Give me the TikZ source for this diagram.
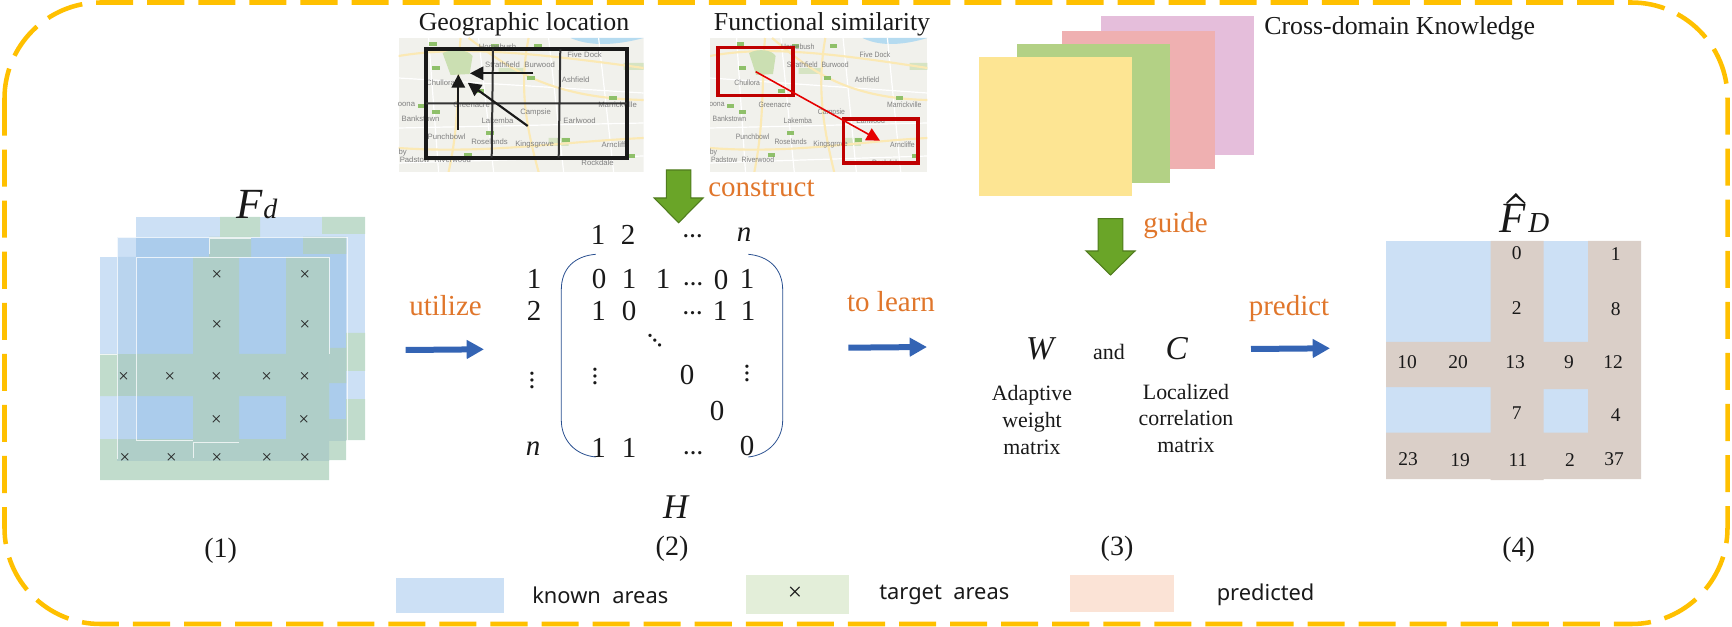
\documentclass[tikz,border=0pt]{standalone}
\usepackage{fontspec}
\setmainfont{Liberation Serif}
\newfontfamily\legendfont{Noto Sans}
\newfontfamily\mapfont{Liberation Sans}
\usetikzlibrary{arrows.meta}
\definecolor{framegold}{HTML}{FFC000}
\definecolor{wordorange}{HTML}{E0762B}
\definecolor{arrowblue}{HTML}{3464B4}
\definecolor{arrowgreen}{HTML}{6AA528}
\definecolor{knownblue}{HTML}{CCE0F5}
\definecolor{deepblue}{HTML}{ABCCEC}
\definecolor{midblue}{HTML}{B9D4EE}
\definecolor{lightgreen}{HTML}{C1DCCC}
\definecolor{tealgreen}{HTML}{AFCEC8}
\definecolor{cellbrown}{HTML}{DACFC8}
\definecolor{legendgreen}{HTML}{E3EED9}
\definecolor{legendpeach}{HTML}{FBE3D6}
\definecolor{sheetd}{HTML}{E5BEDB}
\definecolor{sheetc}{HTML}{EFB0B1}
\definecolor{sheetb}{HTML}{B3D185}
\definecolor{sheeta}{HTML}{FDE593}
\definecolor{mapground}{HTML}{F1F1EC}
\definecolor{maproad}{HTML}{FBE9B4}
\definecolor{mappark}{HTML}{CBDFB2}
\definecolor{mapshield}{HTML}{8FC06A}
\definecolor{mapwater}{HTML}{B5DBF0}
\begin{document}
\begin{tikzpicture}[x=0.75pt,y=-0.75pt,inner sep=0pt]
	\useasboundingbox (0,0) rectangle (1732,627);
	\tikzstyle{orangeword}=[wordorange,font=\fontsize{21.75}{26}\selectfont]
	\tikzstyle{blackword}=[black!90,font=\fontsize{16.4}{20}\selectfont]
	\tikzstyle{titleword}=[black!90,font=\fontsize{19.4}{23}\selectfont]
	\tikzstyle{capword}=[black!90,font=\fontsize{21}{25}\selectfont]
	\tikzstyle{matnum}=[black!90,font=\fontsize{21.75}{26}\selectfont]
	\tikzstyle{matdots}=[black!90,font=\bfseries\fontsize{15}{18}\selectfont]
	\tikzstyle{cellnum}=[black!90,font=\fontsize{14.6}{18}\selectfont]
	\tikzstyle{crossmark}=[black!85,font=\fontsize{14}{17}\selectfont]
	\tikzstyle{legendword}=[black!90,font=\legendfont\fontsize{16.4}{19}\selectfont]
	\tikzstyle{mapword}=[black!50,font=\mapfont\fontsize{5.8}{7}\selectfont,transform shape]
	\tikzstyle{bluearrow}=[arrowblue,line width=4.5pt,-{Triangle[length=13pt,width=13.5pt]}]
	\tikzstyle{greenarrow}=[draw=arrowgreen!75!black,fill=arrowgreen,line width=0.8pt]
	\tikzstyle{roadline}=[maproad,line width=1.6pt]
	\tikzstyle{streetline}=[white,line width=0.9pt]

	\draw[framegold,line width=3.4pt,rounded corners=72pt,dash pattern=on 27.8pt off 10.5pt] (4.5,2.5) rectangle (1727.5,624);

	\foreach \mapx/\mapscale/\mapname in {398.6/1/geomap,710/.887/simmap}{
		\begin{scope}[shift={(\mapx,38)},xscale=\mapscale]
			\clip (0,0) rectangle (245,134);
			\fill[mapground] (0,0) rectangle (245,134);
			\fill[mapwater] (172,0) .. controls (190,8) and (215,8) .. (245,0) -- cycle;
			\fill[mappark!70!mapground] (225,25) rectangle (245,32) (100,30) rectangle (125,36) (150,100) rectangle (170,108);
			\foreach \a/\b/\c/\d in {0/40/245/55,30/0/40/134,80/0/95/134,150/0/165/134,0/90/245/85,200/0/215/134,0/125/245/118}
				\draw[streetline] (\a,\b) -- (\c,\d);
			\draw[roadline] (0,18) .. controls (60,8) and (130,14) .. (245,30);
			\draw[roadline] (62,0) .. controls (58,40) and (62,80) .. (50,134);
			\draw[roadline] (0,110) .. controls (90,116) and (160,104) .. (245,100);
			\draw[roadline] (130,0) .. controls (120,50) and (128,90) .. (140,134);
			\draw[roadline] (70,0) .. controls (110,30) and (150,60) .. (245,62);
			\fill[mappark] (44,15) .. controls (55,10) and (70,12) .. (74,18) -- (71,36) -- (52,37) -- cycle;
			\foreach \a/\b in {30/4,33/28,19/66,33/72,92/6,135/6,128/38,77/51,87/93,65/115,163/100,210/58,228/116}
				\fill[mapshield] (\a,\b) rectangle ++(8,4);
			\foreach \x/\y/\t [count=\i] in {99/9/Homebush,104/27/Strathfield,141/27/Burwood,186/17/Five Dock,177/42/Ashfield,42/45/Chullora,7/67/joona,73/67/Greenacre,22/81/Bankstown,99/83/Lakemba,137/75/Campsie,181/83/Earlwood,48/99/Punchbowl,91/104/Roselands,136/107/Kingsgrove,217/107/Arncliffe,4/115/by,16/122/Padstow,54/122/Riverwood,199/125/Rockdale,219/67/Marrickville}
				\node[mapword] (\mapname\i) at (\x,\y) {\t};
		\end{scope}
	}

	\node[titleword,anchor=base] (geotitle) at (524,31) {Geographic location};
	\node[titleword,anchor=base] (simtitle) at (822,31) {Functional similarity};
	\draw[black!90,line width=2.8pt] (426,49.3) rectangle (626.7,157.7);
	\draw[black!80,line width=1.5pt] (493,49.3) -- (491.7,157.7) (560.3,49.3) -- (558.7,157.7) (426,103.3) -- (626.7,103.3);
	\coordinate (geoa) at (458.3,130);
	\coordinate (geob) at (458.3,74.3);
	\coordinate (geoc) at (533.3,73.3);
	\coordinate (geod) at (470,73.3);
	\coordinate (geoe) at (527.7,126);
	\coordinate (geof) at (467.7,82.7);
	\tikzstyle{EdgeStyle}=[black!90,line width=1.6pt,-{Triangle[length=10pt,width=10pt]}]
	\draw[EdgeStyle] (geoa) -- (geob);
	\draw[EdgeStyle] (geoc) -- (geod);
	\draw[EdgeStyle] (geoe) -- (geof);
	\draw[red!75!black,line width=2.7pt] (718,47.7) rectangle (793,95.7) (843.6,119.3) rectangle (918,163.3);
	\coordinate (sima) at (755.7,71.7);
	\coordinate (simb) at (880,140.7);
	\draw[red!90!black,line width=1.2pt,-{Triangle[length=10pt,width=10pt]}] (sima) -- (simb);

	\foreach \ax/\ay/\ab/\at in {678.6/170/198/222.7,1110.5/218.7/251/275}
		\filldraw[greenarrow] (\ax-12.3,\ay) -- (\ax+12.3,\ay) -- (\ax+12.3,\ab) -- (\ax+24.5,\ab) -- (\ax,\at) -- (\ax-24.5,\ab) -- (\ax-12.3,\ab) -- cycle;
	\node[orangeword,anchor=base west] (construct) at (708,196.7) {construct};

	\foreach \lx/\ly/\ca/\cb/\ra/\rb/\rh/\px/\py in {136/217/84/124/116/154/17/-900/-900,117/237/92/134/111/146/17/136/217,100/257/93/139/97/139/223/117/237}{
		\begin{scope}[shift={(\lx,\ly)}]
			\fill[knownblue] (0,0) rectangle (229,223);
			\fill[lightgreen] (\ca,0) rectangle (\cb,223) (186,0) rectangle (229,\rh) (0,\ra) rectangle (229,\rb) (0,182) rectangle (229,223);
		\end{scope}
		\begin{scope}
			\clip (\px,\py) rectangle ++(229,223);
			\begin{scope}[shift={(\lx,\ly)}]
				\fill[deepblue] (0,0) rectangle (229,223);
				\fill[tealgreen] (\ca,0) rectangle (\cb,223) (186,0) rectangle (229,\rh) (0,\ra) rectangle (229,\rb) (0,182) rectangle (229,223);
			\end{scope}
		\end{scope}
	}
	\fill[midblue] (117,257) rectangle (136,354) (117,396) rectangle (136,439);
	\draw[white,opacity=.75,line width=.5pt] (117,459) -- (117,237) -- (347,237) -- (347,459) (136,440) -- (136,257) -- (329,257) -- (329,354) (100,354) -- (117,354) (209,254) -- (209,238.5) -- (251,238.5) (193,458) -- (193,442.7) -- (239,442.7) (136,440) -- (193,440);
	\foreach \x/\y [count=\i] in {217/275,305/275,217/325,305/325,123.7/377.3,170/377.3,216.3/377.3,266.7/377.3,304.7/377.3,216.3/420,304/420,125/458.3,171.3/458.3,217/458.3,267/458.3,305/458.3}
		\node[crossmark] (cross\i) at (\x,\y) {×};
	\node[anchor=base west,black!90,font=\itshape\fontsize{32.25}{36}\selectfont] (Fbig) at (236,219) {F};
	\node[anchor=base west,black!90,font=\itshape\fontsize{21}{25}\selectfont] (Fsmall) at (263,219) {d};
	\node[capword] (capone) at (220.7,551) {(1)};

	\coordinate (arrowa) at (405.7,350);
	\coordinate (arrowb) at (484,349.3);
	\draw[bluearrow] (arrowa) -- (arrowb);
	\node[orangeword,anchor=base] (utilize) at (445.5,316) {utilize};

	\foreach \x/\y/\t [count=\i] in {598/235/1,628/235/2,534/279/1,599/279/0,629/279/1,663/279/1,721/280/0,747/279/1,534/311/2,598.7/311/1,629/311/0,720/311/1,748/311/1,687/375/0,717/410.7/0,598.7/448/1,629/448/1,747/446/0}
		\node[matnum] (mat\i) at (\x,\y) {\t};
	\node[matnum,font=\itshape\fontsize{21.75}{26}\selectfont] (matntop) at (744,235) {n};
	\node[matnum,font=\itshape\fontsize{21.75}{26}\selectfont] (matnleft) at (533,449) {n};
	\foreach \x/\y/\r [count=\i] in {692.7/236/0,693/284/0,692.7/313/0,655/340.7/-45,532/380/90,595/377/90,747/373/90,693/452.7/0}
		\node[matdots,rotate=\r] (dots\i) at (\x,\y) {…};
	\coordinate (brla) at (595.7,254.3);
	\coordinate (brlb) at (595.7,457);
	\coordinate (brra) at (748.3,254.3);
	\coordinate (brrb) at (748.3,457);
	\draw[arrowblue!80!black,line width=.6pt] (brla) .. controls (575,256) and (561.3,268) .. (561.3,290) -- (561.3,420) .. controls (561.3,440) and (575,455) .. (brlb);
	\draw[arrowblue!80!black,line width=.6pt] (brra) .. controls (768,256) and (782.7,268) .. (782.7,290) -- (782.7,420) .. controls (782.7,440) and (768,455) .. (brrb);
	\node[black!90,font=\itshape\fontsize{26}{30}\selectfont] (Hmat) at (675.7,507) {H};
	\node[capword] (captwo) at (672,549) {(2)};

	\coordinate (learna) at (848.3,347.7);
	\coordinate (learnb) at (927,347);
	\draw[bluearrow] (learna) -- (learnb);
	\node[orangeword,anchor=base] (tolearn) at (891,312) {to learn};

	\fill[sheetd] (1101,16) rectangle (1254,155);
	\fill[sheetc] (1062,31) rectangle (1215,168.7);
	\fill[sheetb] (1017,44) rectangle (1170,182.7);
	\fill[sheeta] (979,57) rectangle (1132,195.7);
	\node[titleword,anchor=base west] (crosstitle) at (1264,35) {Cross-domain Knowledge};

	\node[orangeword,anchor=base west] (guide) at (1143,233) {guide};
	\node[anchor=base,black!90,font=\itshape\fontsize{25}{30}\selectfont] (Wmat) at (1040,359) {W};
	\node[anchor=base,black!90,font=\fontsize{16.5}{20}\selectfont] (andword) at (1109,359) {and};
	\node[anchor=base,black!90,font=\itshape\fontsize{25}{30}\selectfont] (Cmat) at (1176.7,359) {C};
	\node[blackword,anchor=base] (wa) at (1032,401) {Adaptive};
	\node[blackword,anchor=base] (wb) at (1032,427.7) {weight};
	\node[blackword,anchor=base] (wc) at (1032,454.3) {matrix};
	\node[blackword,anchor=base] (ca) at (1186,399.3) {Localized};
	\node[blackword,anchor=base] (cb) at (1186,426) {correlation};
	\node[blackword,anchor=base] (cc) at (1186,452.7) {matrix};
	\node[capword] (capthree) at (1117,549) {(3)};

	\coordinate (predicta) at (1251,349);
	\coordinate (predictb) at (1330,348.3);
	\draw[bluearrow] (predicta) -- (predictb);
	\node[orangeword,anchor=base] (predict) at (1289,316) {predict};

	\fill[knownblue] (1386,241) rectangle (1641,479);
	\fill[cellbrown] (1490.7,241) rectangle (1543.7,480) (1588,241) rectangle (1641,479) (1386,342) rectangle (1641,387) (1386,432.5) rectangle (1641,479) (1543.7,387) rectangle (1588,389);
	\foreach \x/\y/\t [count=\i] in {1516.7/252.7/0,1615.7/254/1,1516.7/307.7/2,1615.7/309/8,1407/361.7/10,1458/362.3/20,1515/362.3/13,1569/362.3/9,1613/361.7/12,1516.7/413.3/7,1615.7/415/4,1408/459/23,1460/460/19,1518/460/11,1570/460/2,1614/459.3/37}
		\node[cellnum] (cell\i) at (\x,\y) {\t};
	\node[anchor=base west,black!90,font=\itshape\fontsize{32.25}{36}\selectfont] (Fhat) at (1499.5,232.7) {F};
	\node[anchor=base west,black!90,font=\itshape\fontsize{21.75}{25}\selectfont] (Dsub) at (1528,232.7) {D};
	\fill[black!90] (1506,203) -- (1515.8,193) -- (1525.5,203) -- (1524.5,203.8) -- (1515.8,196.5) -- (1507,203.8) -- cycle;
	\node[capword] (capfour) at (1518.7,550) {(4)};

	\node[fill=knownblue,minimum width=80.4pt,minimum height=26.2pt] (legknown) at (450,595.5) {};
	\node[legendword,anchor=west] (legknowntext) at (532,595) {known~~areas};
	\node[fill=legendgreen,minimum width=77.2pt,minimum height=29pt] (legtarget) at (797.5,594.3) {};
	\node[black!90,font=\fontsize{19}{22}\selectfont] (legcross) at (795,594) {×};
	\node[legendword,anchor=west] (legtargettext) at (879,595) {target~~areas};
	\node[fill=legendpeach,minimum width=78pt,minimum height=27.5pt] (legpredict) at (1122,593.3) {};
	\node[legendword,anchor=west] (legpredicttext) at (1216.5,595) {predicted};
\end{tikzpicture}
\end{document}
